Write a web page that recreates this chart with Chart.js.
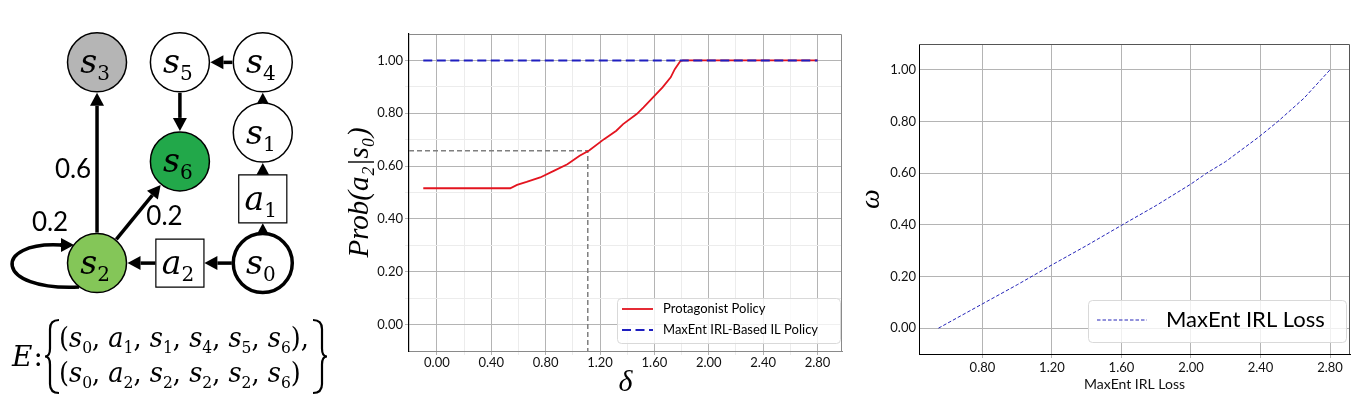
<!DOCTYPE html>
<html>
<head>
<meta charset="utf-8">
<script src="https://cdn.jsdelivr.net/npm/chart.js@4.4.0/dist/chart.umd.min.js"></script>
<style>
    body { margin: 0; width: 1370px; height: 398px; background: #fff; position: relative; overflow: hidden; }
    .panel { position: absolute; top: 0; height: 398px; }
</style>
</head>
<body>
<div class="panel" style="left:0;width:340px"><canvas id="diagrama"></canvas></div>
<div class="panel" style="left:340px;width:510px"><canvas id="prob"></canvas></div>
<div class="panel" style="left:850px;width:520px"><canvas id="omega"></canvas></div>
<script>
// ---- MDP diagram ----
var nodeNames = ['s0', 's1', 's2', 's3', 's4', 's5', 's6', 'a1', 'a2'];
var nodeCol = [2, 2, 0, 0, 2, 1, 1, 2, 1];
var nodeRow = [3, 1.05, 3, 0, 0, 0, 1.48, 2.04, 3];
var nodeFill = ['#ffffff', '#ffffff', '#84c658', '#b5b5b5', '#ffffff', '#ffffff', '#22a84a', '#ffffff', '#ffffff'];
var absorbing = ['s2', 's3', 's6'];
var edgeFrom = ['s0', 'a2', 's0', 'a1', 's1', 's4', 's5', 's2', 's2'];
var edgeTo = ['a2', 's2', 'a1', 's1', 's4', 's5', 's6', 's3', 's6'];
var edgeProb = ['', '', '', '', '', '', '', '0.6', '0.2'];
var selfLoopProb = '0.2';
var trajectory1 = ['s0', 'a1', 's1', 's4', 's5', 's6'];
var trajectory2 = ['s0', 'a2', 's2', 's2', 's2', 's6'];

// ---- Prob(a2|s0) vs delta ----
var deltaValues = [-0.1, 0.54, 0.59, 0.66, 0.76, 0.86, 0.96, 1.05, 1.12, 1.23, 1.32, 1.37, 1.47, 1.52, 1.59, 1.66, 1.72, 1.75, 1.79, 1.81, 2.8];
var protagonistProb = [0.516, 0.516, 0.529, 0.540, 0.557, 0.582, 0.607, 0.639, 0.659, 0.702, 0.734, 0.759, 0.797, 0.822, 0.860, 0.898, 0.936, 0.967, 0.997, 1.0, 1.0];
var ilDelta = [-0.1, 2.8];
var ilProb = [1.0, 1.0];
var markDelta = 1.11;
var markProb = 0.658;
var deltaTicks = [0, 0.4, 0.8, 1.2, 1.6, 2.0, 2.4, 2.8];
var deltaMinor = [0.2, 0.6, 1.0, 1.4, 1.8, 2.2, 2.6];
var probTicks = [0, 0.2, 0.4, 0.6, 0.8, 1.0];
var probMinor = [0.1, 0.3, 0.5, 0.7, 0.9];

// ---- omega vs MaxEnt IRL loss ----
var irlLoss = [0.547, 0.8, 1.0, 1.2, 1.4, 1.6, 1.8, 2.0, 2.09, 2.2, 2.39, 2.5, 2.65, 2.8];
var omegaValues = [0.0, 0.094, 0.168, 0.245, 0.32, 0.398, 0.475, 0.558, 0.60, 0.645, 0.74, 0.80, 0.89, 1.0];
var lossTicks = [0.8, 1.2, 1.6, 2.0, 2.4, 2.8];
var omegaTicks = [0, 0.2, 0.4, 0.6, 0.8, 1.0];

var fonteTicks = { family: 'Lato', size: 13 };

function ehMaior(lista, v) {
    return lista.some(function (t) { return Math.abs(t - v) < 1e-9; });
}

function desenhaSeta(ctx, x1, y1, x2, y2) {
    var ang = Math.atan2(y2 - y1, x2 - x1);
    var hl = 13, hw = 7;
    var bx = x2 - hl * Math.cos(ang), by = y2 - hl * Math.sin(ang);
    ctx.beginPath();
    ctx.moveTo(x1, y1);
    ctx.lineTo(bx, by);
    ctx.stroke();
    ctx.beginPath();
    ctx.moveTo(x2, y2);
    ctx.lineTo(bx + hw * Math.sin(ang), by - hw * Math.cos(ang));
    ctx.lineTo(bx - hw * Math.sin(ang), by + hw * Math.cos(ang));
    ctx.closePath();
    ctx.fill();
}

function raioNo(nome, ux, uy) {
    if (nome[0] === 'a') {
        var h = 24.5;
        return Math.min(h / Math.max(Math.abs(ux), 1e-9), h / Math.max(Math.abs(uy), 1e-9));
    }
    return nome === 's0' ? 31 : 30.5;
}

function segmentosTupla(itens, fim) {
    var segs = [{ t: '(', f: 'p' }];
    itens.forEach(function (it, k) {
        segs.push({ t: it[0], f: 'i' });
        segs.push({ t: it.slice(1), f: 'sub' });
        if (k < itens.length - 1) segs.push({ t: ', ', f: 'p' });
    });
    segs.push({ t: fim, f: 'p' });
    return segs;
}

function fonteSeg(f, fs) {
    if (f === 'i') return 'italic ' + fs + 'px "DejaVu Serif"';
    if (f === 'sub') return Math.round(fs * 0.62) + 'px "DejaVu Serif"';
    return fs + 'px "DejaVu Serif"';
}

function larguraSegs(ctx, segs, fs) {
    var w = 0;
    segs.forEach(function (s) { ctx.font = fonteSeg(s.f, fs); w += ctx.measureText(s.t).width; });
    return w;
}

function desenhaSegs(ctx, segs, fs, x, base, sx) {
    ctx.save();
    ctx.translate(x, base);
    ctx.scale(sx, 1);
    var cx = 0;
    segs.forEach(function (s) {
        ctx.font = fonteSeg(s.f, fs);
        ctx.fillText(s.t, cx, s.f === 'sub' ? fs * 0.2 : 0);
        cx += ctx.measureText(s.t).width;
    });
    ctx.restore();
}

function chave(ctx, x, y1, y2, dir) {
    var m = (y1 + y2) / 2, p = 12 * dir;
    ctx.beginPath();
    ctx.moveTo(x + p, y1);
    ctx.quadraticCurveTo(x + 3 * dir, y1, x + 3 * dir, y1 + 9);
    ctx.lineTo(x + 3 * dir, m - 8);
    ctx.quadraticCurveTo(x + 3 * dir, m, x - 2 * dir, m);
    ctx.quadraticCurveTo(x + 3 * dir, m, x + 3 * dir, m + 8);
    ctx.lineTo(x + 3 * dir, y2 - 9);
    ctx.quadraticCurveTo(x + 3 * dir, y2, x + p, y2);
    ctx.stroke();
}

var diagramaPlugin = {
    id: 'diagramaPlugin',
    beforeDatasetsDraw: function (chart) {
        var ctx = chart.ctx, sx = chart.scales.x, sy = chart.scales.y;
        var px = function (n) { var i = nodeNames.indexOf(n); return [sx.getPixelForValue(nodeCol[i]), sy.getPixelForValue(nodeRow[i])]; };
        ctx.save();
        ctx.strokeStyle = '#000';
        ctx.fillStyle = '#000';
        ctx.lineWidth = 3.5;
        edgeFrom.forEach(function (a, k) {
            var b = edgeTo[k];
            var p = px(a), q = px(b);
            var dx = q[0] - p[0], dy = q[1] - p[1], L = Math.hypot(dx, dy);
            var ux = dx / L, uy = dy / L;
            var r1 = raioNo(a, ux, uy), r2 = raioNo(b, ux, uy);
            desenhaSeta(ctx, p[0] + ux * r1, p[1] + uy * r1, q[0] - ux * r2, q[1] - uy * r2);
        });
        // laco em s2
        var c = px('s2');
        ctx.beginPath();
        ctx.moveTo(c[0] - 18, c[1] + 24);
        ctx.bezierCurveTo(c[0] - 104, c[1] + 28, c[0] - 104, c[1] - 22, c[0] - 36, c[1] - 18);
        ctx.stroke();
        desenhaSeta(ctx, c[0] - 37, c[1] - 18, c[0] - 23, c[1] - 18);
        ctx.restore();
    },
    afterDatasetsDraw: function (chart, args, opts) {
        var ctx = chart.ctx, sx = chart.scales.x, sy = chart.scales.y;
        var px = function (n) { var i = nodeNames.indexOf(n); return [sx.getPixelForValue(nodeCol[i]), sy.getPixelForValue(nodeRow[i])]; };
        ctx.save();
        ctx.fillStyle = '#000';
        ctx.textBaseline = 'alphabetic';
        // rotulos dos nos
        nodeNames.forEach(function (n) {
            var p = px(n);
            ctx.font = 'italic 33px "DejaVu Serif"';
            var w1 = ctx.measureText(n[0]).width;
            ctx.font = '20px "DejaVu Serif"';
            var w2 = ctx.measureText(n.slice(1)).width;
            var x0 = p[0] - (w1 + w2) / 2 - 2;
            ctx.font = 'italic 33px "DejaVu Serif"';
            ctx.fillText(n[0], x0, p[1] + 11);
            ctx.font = '20px "DejaVu Serif"';
            ctx.fillText(n.slice(1), x0 + w1, p[1] + 18);
        });
        // probabilidades
        ctx.font = '26px Lato';
        ctx.textAlign = 'center';
        ctx.textBaseline = 'middle';
        edgeFrom.forEach(function (a, k) {
            if (!edgeProb[k]) return;
            var p = px(a), q = px(edgeTo[k]);
            var off = opts.labelOffset[a + '-' + edgeTo[k]];
            ctx.fillText(edgeProb[k], (p[0] + q[0]) / 2 + off[0], (p[1] + q[1]) / 2 + off[1]);
        });
        var c = px('s2');
        ctx.fillText(selfLoopProb, c[0] + opts.loopLabel[0], c[1] + opts.loopLabel[1]);
        // conjunto E
        ctx.textAlign = 'left';
        ctx.textBaseline = 'alphabetic';
        var f = opts.formula, fs = 28;
        ctx.font = 'italic 28px "DejaVu Serif"';
        ctx.fillText('E', f.ex, f.eBase);
        var we = ctx.measureText('E').width;
        ctx.font = '28px "DejaVu Serif"';
        ctx.fillText(':', f.ex + we + 1, f.eBase);
        var segs1 = segmentosTupla(trajectory1, '),');
        var segs2 = segmentosTupla(trajectory2, ')');
        var escala = f.width / larguraSegs(ctx, segs1, fs);
        desenhaSegs(ctx, segs1, fs, f.x, f.base1, escala);
        desenhaSegs(ctx, segs2, fs, f.x, f.base2, escala);
        ctx.lineWidth = 2.2;
        ctx.strokeStyle = '#000';
        chave(ctx, f.braceL, f.braceTop, f.braceBottom, 1);
        chave(ctx, f.braceR, f.braceTop, f.braceBottom, -1);
        ctx.restore();
    }
};

new Chart(document.getElementById('diagrama'), {
    type: 'scatter',
    data: {
        datasets: [{
            data: nodeNames.map(function (n, i) { return { x: nodeCol[i], y: nodeRow[i] }; }),
            pointStyle: nodeNames.map(function (n) { return n[0] === 'a' ? 'rect' : 'circle'; }),
            pointRadius: nodeNames.map(function (n) { return n[0] === 'a' ? 34 : 29.5; }),
            pointBackgroundColor: nodeFill,
            pointBorderColor: '#000',
            pointBorderWidth: nodeNames.map(function (n) { return n === 's0' ? 3.5 : (n[0] === 'a' ? 1.2 : 1.5); }),
            clip: false
        }, {
            data: absorbing.map(function (n) { var i = nodeNames.indexOf(n); return { x: nodeCol[i], y: nodeRow[i] }; }),
            pointRadius: 26,
            pointBackgroundColor: 'rgba(0,0,0,0)',
            pointBorderColor: '#1a1a1a',
            pointBorderWidth: 1,
            clip: false
        }]
    },
    options: {
        responsive: true,
        maintainAspectRatio: false,
        animation: false,
        events: [],
        layout: { padding: 0 },
        scales: {
            x: { type: 'linear', display: false, min: -0.746, max: 2.507 },
            y: { type: 'linear', display: false, reverse: true, min: -0.406, max: 4.49 }
        },
        plugins: {
            legend: { display: false },
            tooltip: { enabled: false },
            diagramaPlugin: {
                labelOffset: { 's2-s3': [-24, 7], 's2-s6': [26, 4] },
                loopLabel: [-47, -40],
                formula: { ex: 12, eBase: 366, x: 59, width: 250, base1: 347, base2: 382, braceL: 47, braceR: 325, braceTop: 320, braceBottom: 393 }
            }
        }
    },
    plugins: [diagramaPlugin]
});

// ---- legenda com caixa e moldura ----
var caixaLegenda = {
    id: 'caixaLegenda',
    afterDraw: function (chart, args, o) {
        var ctx = chart.ctx, a = chart.chartArea;
        var x = a.right - o.right - o.width, y = a.bottom - o.bottom - o.height;
        ctx.save();
        ctx.beginPath();
        ctx.roundRect(x + 0.5, y + 0.5, o.width, o.height, 4);
        ctx.fillStyle = 'rgba(255,255,255,0.8)';
        ctx.fill();
        ctx.strokeStyle = '#d9d9d9';
        ctx.lineWidth = 1;
        ctx.stroke();
        o.items.forEach(function (di, k) {
            var ds = chart.data.datasets[di];
            var cy = y + o.firstRow + k * o.rowGap;
            ctx.strokeStyle = ds.borderColor;
            ctx.lineWidth = ds.borderWidth;
            ctx.setLineDash(ds.borderDash || []);
            ctx.beginPath();
            ctx.moveTo(x + o.sampleX, cy);
            ctx.lineTo(x + o.sampleX + o.sampleLen, cy);
            ctx.stroke();
            ctx.setLineDash([]);
            ctx.fillStyle = '#000';
            ctx.font = o.font;
            ctx.textBaseline = 'middle';
            ctx.fillText(ds.label, x + o.textX, cy);
        });
        ctx.restore();
    }
};

var moldura = {
    id: 'moldura',
    afterDatasetsDraw: function (chart, args, o) {
        var ctx = chart.ctx, a = chart.chartArea;
        ctx.save();
        ctx.lineWidth = 1;
        ctx.strokeStyle = o.color;
        ctx.beginPath();
        ctx.moveTo(a.left, a.top + 0.5);
        ctx.lineTo(a.right - 0.5, a.top + 0.5);
        ctx.lineTo(a.right - 0.5, a.bottom);
        ctx.stroke();
        ctx.restore();
    }
};

// ---- grafico do meio ----
var deltaMin = -0.205, probMin = -0.1;
new Chart(document.getElementById('prob'), {
    type: 'scatter',
    data: {
        datasets: [{
            label: 'MaxEnt IRL-Based IL Policy',
            data: ilDelta.map(function (x, i) { return { x: x, y: ilProb[i] }; }),
            showLine: true,
            borderColor: '#1f1fc0',
            borderWidth: 2,
            borderDash: [9, 4.5],
            pointRadius: 0,
            order: 0
        }, {
            label: 'Protagonist Policy',
            data: deltaValues.map(function (x, i) { return { x: x, y: protagonistProb[i] }; }),
            showLine: true,
            borderColor: '#e3141f',
            borderWidth: 1.8,
            pointRadius: 0,
            order: 1
        }, {
            data: [{ x: deltaMin, y: markProb }, { x: markDelta, y: markProb }, { x: markDelta, y: probMin }],
            showLine: true,
            borderColor: '#7f7f7f',
            borderWidth: 1.5,
            borderDash: [5, 3],
            pointRadius: 0,
            order: 2
        }]
    },
    options: {
        responsive: true,
        maintainAspectRatio: false,
        animation: false,
        events: [],
        layout: { padding: { left: 0, right: 8, top: 34, bottom: 0 } },
        scales: {
            x: {
                type: 'linear', min: deltaMin, max: 2.98,
                afterBuildTicks: function (s) { s.ticks = deltaTicks.concat(deltaMinor).sort(function (a, b) { return a - b; }).map(function (v) { return { value: v }; }); },
                afterFit: function (s) { s.height = 47; },
                ticks: {
                    autoSkip: false, maxRotation: 0, padding: 0, color: '#111', font: fonteTicks,
                    callback: function (v) { return ehMaior(deltaTicks, v) ? v.toFixed(2) : ''; }
                },
                grid: {
                    tickLength: 4,
                    color: function (c) { return c.tick && ehMaior(deltaTicks, c.tick.value) ? '#b4b4b4' : '#ececec'; }
                },
                border: { color: '#8a8a8a', width: 1 },
                title: { display: true, text: 'δ', color: '#000', padding: 0, font: { family: 'Liberation Serif', style: 'italic', size: 30, lineHeight: 1 } }
            },
            y: {
                type: 'linear', min: probMin, max: 1.1,
                afterBuildTicks: function (s) { s.ticks = probTicks.concat(probMinor).sort(function (a, b) { return a - b; }).map(function (v) { return { value: v }; }); },
                afterFit: function (s) { s.width = 69; },
                ticks: {
                    autoSkip: false, padding: 2, color: '#111', font: fonteTicks,
                    callback: function (v) { return ehMaior(probTicks, v) ? v.toFixed(2) : ''; }
                },
                grid: {
                    tickLength: 4,
                    color: function (c) { return c.tick && ehMaior(probTicks, c.tick.value) ? '#b4b4b4' : '#ececec'; }
                },
                border: { color: '#000', width: 1.2 },
                title: { display: true, text: 'Prob(a₂|s₀)', color: '#000', padding: { top: 6 }, font: { family: 'Liberation Serif', style: 'italic', size: 29, lineHeight: 1 } }
            }
        },
        plugins: {
            legend: { display: false },
            tooltip: { enabled: false },
            moldura: { color: '#8a8a8a' },
            caixaLegenda: { items: [1, 0], width: 223, height: 45, right: 2, bottom: 8, firstRow: 11, rowGap: 21, sampleX: 5, sampleLen: 31, textX: 46, font: '13px Lato' }
        }
    },
    plugins: [moldura, caixaLegenda]
});

// ---- grafico da direita ----
new Chart(document.getElementById('omega'), {
    type: 'scatter',
    data: {
        datasets: [{
            label: 'MaxEnt IRL Loss',
            data: irlLoss.map(function (x, i) { return { x: x, y: omegaValues[i] }; }),
            showLine: true,
            borderColor: '#2424b8',
            borderWidth: 1,
            borderDash: [3.5, 2],
            pointRadius: 0
        }]
    },
    options: {
        responsive: true,
        maintainAspectRatio: false,
        animation: false,
        events: [],
        layout: { padding: { left: 0, right: 20, top: 44, bottom: 0 } },
        scales: {
            x: {
                type: 'linear', min: 0.435, max: 2.915,
                afterBuildTicks: function (s) { s.ticks = lossTicks.map(function (v) { return { value: v }; }); },
                afterFit: function (s) { s.height = 44; },
                ticks: { autoSkip: false, maxRotation: 0, padding: 2, color: '#111', font: fonteTicks, callback: function (v) { return v.toFixed(2); } },
                grid: { tickLength: 4, color: '#b4b4b4' },
                border: { color: '#000', width: 1 },
                title: { display: true, text: 'MaxEnt IRL Loss', color: '#111', padding: { bottom: 5 }, font: { family: 'Lato', size: 14, lineHeight: 1.2 } }
            },
            y: {
                type: 'linear', min: -0.1, max: 1.1,
                afterBuildTicks: function (s) { s.ticks = omegaTicks.map(function (v) { return { value: v }; }); },
                afterFit: function (s) { s.width = 69; },
                ticks: { autoSkip: false, padding: 3, color: '#111', font: fonteTicks, callback: function (v) { return v.toFixed(2); } },
                grid: { drawTicks: false, color: '#b4b4b4' },
                border: { color: '#000', width: 1 },
                title: { display: true, text: 'ω', color: '#000', padding: { top: 8 }, font: { family: 'Liberation Serif', style: 'italic', size: 28, lineHeight: 1 } }
            }
        },
        plugins: {
            legend: { display: false },
            tooltip: { enabled: false },
            moldura: { color: '#555' },
            caixaLegenda: { items: [0], width: 258, height: 42, right: 4, bottom: 12, firstRow: 20, rowGap: 0, sampleX: 9, sampleLen: 50, textX: 78, font: '22px Lato' }
        }
    },
    plugins: [moldura, caixaLegenda]
});
</script>
</body>
</html>
